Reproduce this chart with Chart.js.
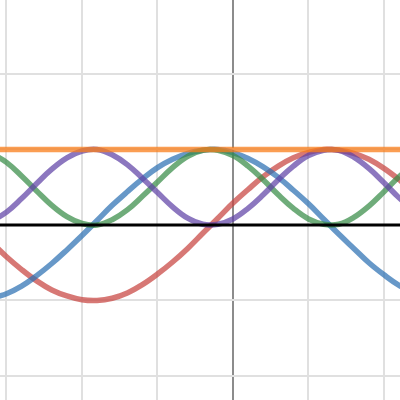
<!DOCTYPE html>
<html>
<head>
<meta charset="utf-8">
<style>html,body{margin:0;padding:0;background:#fff;}#wrap{width:400px;height:400px;}</style>
<script src="https://cdn.jsdelivr.net/npm/chart.js@4/dist/chart.umd.min.js"></script>
</head>
<body>
<div id="wrap"><canvas id="c" width="400" height="400"></canvas></div>
<script>
// sample x positions (graph units)
const xs = [-3.2,-3.0,-2.8,-2.6,-2.4,-2.2,-2.0,-1.8,-1.6,-1.4,-1.2,-1.0,-0.8,-0.6,-0.4,-0.2,0.0,0.2,0.4,0.6,0.8,1.0,1.2,1.4,1.6,1.8,2.0,2.2,2.4];
const redY = [-0.23,-0.42,-0.59,-0.74,-0.86,-0.94,-0.99,-1.00,-0.97,-0.90,-0.79,-0.65,-0.49,-0.31,-0.11,0.09,0.29,0.47,0.64,0.78,0.89,0.96,1.00,0.99,0.95,0.87,0.75,0.60,0.43];
const blueY = [-0.97,-0.91,-0.81,-0.67,-0.51,-0.33,-0.14,0.06,0.26,0.44,0.61,0.76,0.87,0.95,0.99,1.00,0.96,0.88,0.77,0.63,0.46,0.28,0.08,-0.12,-0.31,-0.50,-0.66,-0.80,-0.90];
const greenY = [0.95,0.83,0.65,0.45,0.26,0.11,0.02,0.00,0.07,0.20,0.38,0.57,0.76,0.91,0.99,0.99,0.92,0.78,0.60,0.40,0.22,0.08,0.01,0.01,0.10,0.25,0.44,0.64,0.81];
const purpleY = [0.05,0.17,0.35,0.55,0.74,0.89,0.98,1.00,0.93,0.80,0.62,0.43,0.24,0.09,0.01,0.01,0.08,0.22,0.40,0.60,0.78,0.92,0.99,0.99,0.90,0.75,0.56,0.36,0.19];
const orangeX = [-3.2, 2.4];
const orangeY = [1, 1];
const blackX = [-3.2, 2.4];
const blackY = [0, 0];
const xTicks = [-3,-2,-1,0,1,2];
const yTicks = [-2,-1,0,1,2];

function pts(xa, ya){ return xa.map((x,i)=>({x:x, y:ya[i]})); }
function ds(xa, ya, color, width, order){
  return {data: pts(xa, ya), borderColor: color, borderWidth: width, pointRadius: 0,
          tension: 0.4, fill: false, order: order, borderCapStyle: 'round', borderJoinStyle: 'round'};
}
const gridColor = (ctx) => (ctx.tick && ctx.tick.value === 0) ? '#8c8c8c' : '#e0e0e0';

new Chart(document.getElementById('c'), {
  type: 'line',
  data: {
    datasets: [
      ds(xs, redY, 'rgba(199,68,64,0.72)', 5.5, 6),
      ds(xs, blueY, 'rgba(45,112,179,0.72)', 5.5, 5),
      ds(xs, greenY, 'rgba(56,140,70,0.72)', 5.5, 4),
      ds(xs, purpleY, 'rgba(96,66,166,0.72)', 5.5, 3),
      ds(orangeX, orangeY, 'rgba(250,126,25,0.75)', 5.5, 2),
      ds(blackX, blackY, '#000000', 3, 1)
    ]
  },
  options: {
    responsive: false,
    animation: false,
    devicePixelRatio: 1,
    layout: {padding: 0},
    plugins: {legend: {display: false}, tooltip: {enabled: false}},
    scales: {
      x: {
        type: 'linear', min: -3.086, max: 2.212,
        afterBuildTicks: (s) => { s.ticks = xTicks.map(v => ({value: v})); },
        ticks: {display: false},
        border: {display: false},
        grid: {color: gridColor, lineWidth: 2, drawTicks: false}
      },
      y: {
        type: 'linear', min: -2.318, max: 2.980,
        afterBuildTicks: (s) => { s.ticks = yTicks.map(v => ({value: v})); },
        ticks: {display: false},
        border: {display: false},
        grid: {color: gridColor, lineWidth: 2, drawTicks: false}
      }
    }
  }
});
</script>
</body>
</html>
